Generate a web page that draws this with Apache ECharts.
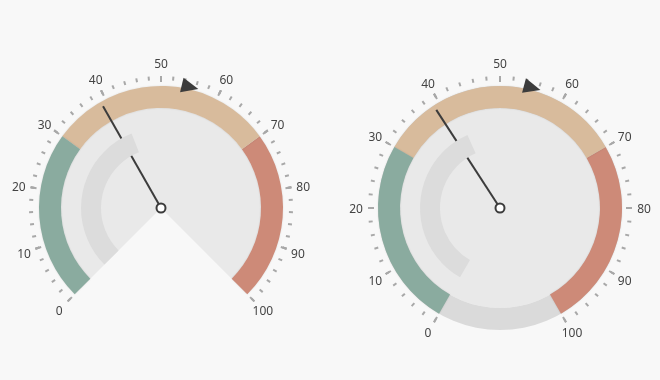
<!DOCTYPE html>
<html>
<head>
<meta charset="utf-8">
<script src="https://cdn.jsdelivr.net/npm/echarts@6/dist/echarts.min.js"></script>
<style>
html,body{margin:0;padding:0;background:#f8f8f8;}
#main{width:660px;height:380px;}
</style>
</head>
<body>
<div id="main"></div>
<script>
// ---- data ----
const axisMin = 0;
const axisMax = 100;
const axisSplits = 10;
const bandStops = [0.3, 0.7, 1];
const bandColors = ['#8aab9f', '#d8bb9c', '#cd8a78'];
const needleValues = [39, 39];
const progressValues = [42, 42];
const markerValues = [55, 55];
const gaugeCenters = [[161, 208], [500, 208]];
const gaugeAngles = [[225, -45], [240, -60]];
const fullRing = [false, true];

const chart = echarts.init(document.getElementById('main'), null, {renderer: 'canvas'});
const off = {show: false};
function base(i, extra) {
  return Object.assign({
    type: 'gauge', center: gaugeCenters[i], min: axisMin, max: axisMax,
    startAngle: gaugeAngles[i][0], endAngle: gaugeAngles[i][1],
    axisLine: off, axisTick: off, splitLine: off, axisLabel: off,
    pointer: off, anchor: off, title: off, detail: off, progress: off,
    silent: true, animation: false
  }, extra);
}
// label styles so that each label is centred on its radial position
// (gauge labels are anchored on an edge; these boxes shift them back by D)
function labelRich(i) {
  const s = gaugeAngles[i][0], e = gaugeAngles[i][1];
  const D = 7, S = 2;
  const rich = {};
  for (let k = 0; k <= axisSplits; k++) {
    const a = (s + (e - s) * k / axisSplits) * Math.PI / 180;
    const ux = Math.cos(a), uy = -Math.sin(a);
    const st = {align: 'center', fontSize: 12, color: '#444',
      fontFamily: 'Noto Sans', lineHeight: 14};
    if (Math.abs(ux) > 0.4) st.width = 2 * D * Math.abs(ux);
    if (Math.abs(uy) > 0.8) {
      st.lineHeight = 2 * D * Math.abs(uy);
      st.padding = [S, 0, 0, 0];
    } else {
      const shift = -D * uy + S; // desired downward shift
      st.padding = shift > 0 ? [2 * shift, 0, 0, 0] : [0, 0, -2 * shift, 0];
    }
    rich['l' + k] = st;
  }
  return rich;
}
const series = [];
gaugeCenters.forEach((c, i) => {
  const full = fullRing[i];
  // inner disk
  series.push(base(i, {
    radius: 100,
    startAngle: full ? 90 : gaugeAngles[i][0],
    endAngle: full ? -270 : gaugeAngles[i][1],
    axisLine: {show: true, lineStyle: {width: 100, color: [[1, '#e9e9e9']]}},
    data: [{value: 0}]
  }));
  if (full) {
    series.push(base(i, {
      radius: 122, startAngle: 90, endAngle: -270,
      axisLine: {show: true, lineStyle: {width: 22, color: [[1, '#dadada']]}},
      data: [{value: 0}]
    }));
  }
  // main band with ticks and labels
  series.push(base(i, {
    radius: 122, splitNumber: axisSplits,
    axisLine: {show: true, lineStyle: {width: 22,
      color: bandStops.map((s, k) => [s, bandColors[k]]),
      shadowBlur: 2, shadowColor: 'rgba(0,0,0,0.12)'}},
    axisTick: {show: true, distance: -32, length: 4, splitNumber: 5,
      lineStyle: {color: '#a8a8a8', width: 2}},
    splitLine: {show: true, distance: -32, length: 6,
      lineStyle: {color: '#a8a8a8', width: 2}},
    axisLabel: {show: true, distance: -3, color: '#444', fontSize: 12,
      fontFamily: 'Noto Sans',
      formatter: v => '{l' + Math.round((v - axisMin) / (axisMax - axisMin) * axisSplits) + '|' + v + '}',
      rich: labelRich(i)},
    data: [{value: 0}]
  }));
  // progress arc
  series.push(base(i, {
    radius: 80,
    progress: {show: true, width: 20, itemStyle: {color: '#dcdcdc'}},
    data: [{value: progressValues[i]}]
  }));
  // needle
  series.push(base(i, {
    radius: 122,
    pointer: {show: true, icon: 'rect', width: 2, length: 117,
      itemStyle: {color: '#3c3c3c'}},
    anchor: {show: true, showAbove: true, size: 9,
      itemStyle: {color: '#ffffff', borderColor: '#3c3c3c', borderWidth: 2}},
    data: [{value: needleValues[i]}]
  }));
  // marker triangle
  series.push(base(i, {
    radius: 122,
    pointer: {show: true, icon: 'path://M0,0L10,5L0,10Z', keepAspect: false,
      width: 17, length: 15, offsetCenter: [0, -117],
      itemStyle: {color: '#3c3c3c'}},
    data: [{value: markerValues[i]}]
  }));
});
chart.setOption({backgroundColor: '#f8f8f8', animation: false, series: series});
</script>
</body>
</html>
